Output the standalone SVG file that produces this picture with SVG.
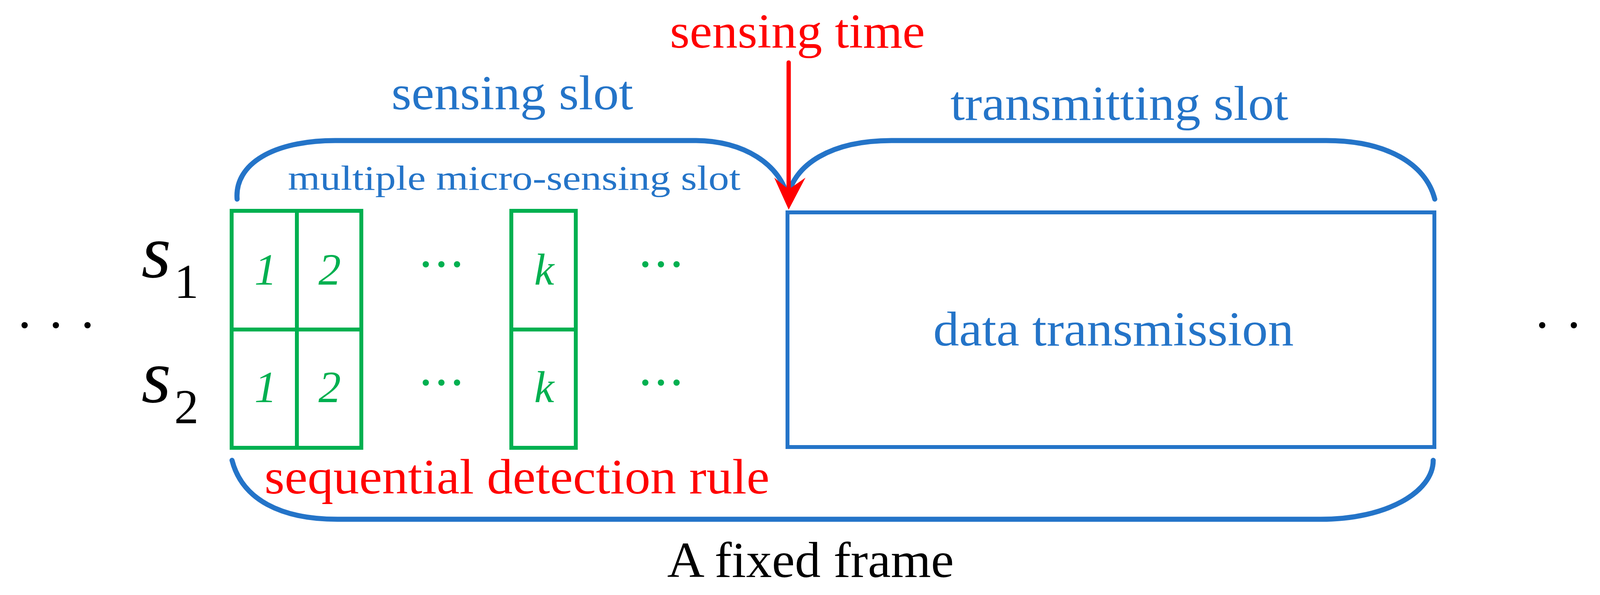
<svg xmlns="http://www.w3.org/2000/svg" width="4155" height="1524" viewBox="0 0 4155 1524">
<style>
text{font-family:"Liberation Serif","Times New Roman",serif}
.b{fill:#2474c8}.r{fill:#ff0000}.g{fill:#00b050;font-style:italic}.k{fill:#000}
.bl{fill:none;stroke:#2474c8;stroke-width:13;stroke-linecap:round}
.gr{fill:none;stroke:#00b050;stroke-width:10}
</style>
<rect width="4155" height="1524" fill="#fff"/>
<g id="connectors">
<path class="bl" d="M607,510 C600,420 700,360 858,360 L1782,360 C1900,360 2000,420 2017,510"/>
<path class="bl" d="M2016,510 C2030,420 2130,360 2282,360 L3395,360 C3550,360 3650,420 3673,510"/>
<path class="bl" d="M594,1179 C620,1280 720,1330 864,1330 L3381,1330 C3550,1330 3669,1260 3669,1179"/>
<line x1="2019" y1="160" x2="2019" y2="490" stroke="#ff0000" stroke-width="11" stroke-linecap="round"/>
<path d="M2019,537 L1982,455 L2019,485 L2062,455 Z" fill="#ff0000"/>
</g>
<g id="green-cells">
<rect class="gr" x="593" y="540" width="332" height="607"/>
<line class="gr" x1="593" y1="844" x2="925" y2="844"/>
<line class="gr" x1="760" y1="540" x2="760" y2="1147"/>
<rect class="gr" x="1309" y="540" width="165" height="607"/>
<line class="gr" x1="1309" y1="844" x2="1474" y2="844"/>
<text class="g" x="680" y="729" font-size="115" text-anchor="middle">1</text>
<text class="g" x="844" y="729" font-size="115" text-anchor="middle">2</text>
<text class="g" x="1393" y="729" font-size="115" text-anchor="middle">k</text>
<text class="g" x="680" y="1030" font-size="115" text-anchor="middle">1</text>
<text class="g" x="844" y="1030" font-size="115" text-anchor="middle">2</text>
<text class="g" x="1393" y="1030" font-size="115" text-anchor="middle">k</text>
<g fill="#00b050">
<circle cx="1090" cy="677" r="8"/><circle cx="1130" cy="677" r="8"/><circle cx="1170" cy="677" r="8"/>
<circle cx="1652" cy="677" r="8"/><circle cx="1692" cy="677" r="8"/><circle cx="1732" cy="677" r="8"/>
<circle cx="1090" cy="980" r="8"/><circle cx="1130" cy="980" r="8"/><circle cx="1170" cy="980" r="8"/>
<circle cx="1652" cy="980" r="8"/><circle cx="1692" cy="980" r="8"/><circle cx="1732" cy="980" r="8"/>
</g>
</g>
<g id="data-transmission">
<rect x="2016" y="544" width="1656" height="601" fill="none" stroke="#2474c8" stroke-width="10"/>
<text class="b" x="2389" y="885" font-size="125" textLength="923" lengthAdjust="spacingAndGlyphs">data transmission</text>
</g>
<g id="labels">
<text class="r" x="1715" y="122" font-size="125" textLength="653" lengthAdjust="spacingAndGlyphs">sensing time</text>
<text class="b" x="1002" y="280" font-size="125" textLength="619" lengthAdjust="spacingAndGlyphs">sensing slot</text>
<text class="b" x="2433" y="307" font-size="125" textLength="865" lengthAdjust="spacingAndGlyphs">transmitting slot</text>
<text class="b" x="737" y="486" font-size="88" textLength="1159" lengthAdjust="spacingAndGlyphs">multiple micro-sensing slot</text>
<text class="r" x="677" y="1264" font-size="128" textLength="1293" lengthAdjust="spacingAndGlyphs">sequential detection rule</text>
<text class="k" x="1708" y="1478" font-size="130" textLength="734" lengthAdjust="spacingAndGlyphs">A fixed frame</text>
<text class="k" x="362" y="710" font-size="195" font-style="italic">s</text>
<text class="k" x="446" y="763" font-size="125">1</text>
<text class="k" x="362" y="1030" font-size="195" font-style="italic">s</text>
<text class="k" x="446" y="1084" font-size="125">2</text>
</g>
<g id="ellipses" fill="#000">
<circle cx="63" cy="833" r="8"/><circle cx="143" cy="833" r="8"/><circle cx="224" cy="833" r="8"/>
<circle cx="3948" cy="833" r="8"/><circle cx="4029" cy="833" r="8"/><circle cx="4109" cy="833" r="8"/>
</g>
</svg>
